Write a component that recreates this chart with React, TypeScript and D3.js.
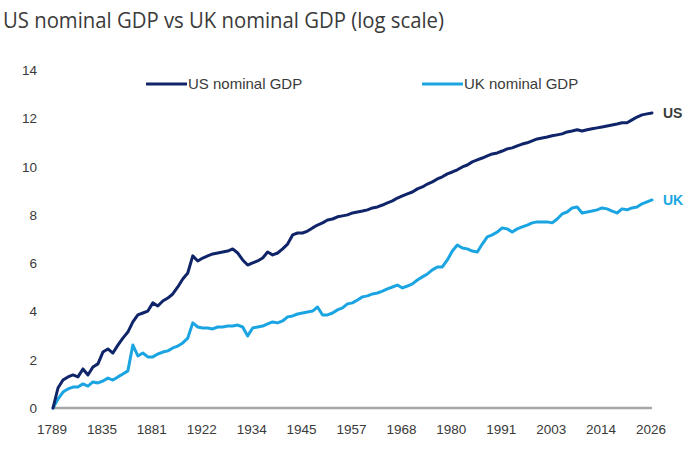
import { useEffect, useRef } from 'react';
import * as d3 from 'd3';

// Values (log scale), one point per equal step along the x axis
const usGdp = [
  0, 0.83, 1.16, 1.29, 1.37, 1.29, 1.62, 1.37, 1.7, 1.83,
  2.32, 2.45, 2.28, 2.61, 2.9, 3.15, 3.57, 3.86, 3.94, 4.02,
  4.36, 4.23, 4.44, 4.56, 4.73, 5.02, 5.35, 5.6, 6.31, 6.1,
  6.22, 6.31, 6.39, 6.43, 6.47, 6.51, 6.6, 6.43, 6.14, 5.93,
  6.02, 6.1, 6.22, 6.47, 6.35, 6.43, 6.6, 6.8, 7.18, 7.26,
  7.26, 7.34, 7.47, 7.59, 7.68, 7.8, 7.84, 7.93, 7.97, 8.01,
  8.09, 8.13, 8.17, 8.22, 8.3, 8.34, 8.42, 8.51, 8.59, 8.71,
  8.8, 8.88, 8.96, 9.09, 9.17, 9.29, 9.38, 9.5, 9.59, 9.71,
  9.79, 9.88, 10.0, 10.08, 10.21, 10.29, 10.37, 10.46, 10.54, 10.58,
  10.66, 10.75, 10.79, 10.87, 10.95, 11.0, 11.08, 11.16, 11.2, 11.24,
  11.29, 11.33, 11.37, 11.45, 11.49, 11.54, 11.49, 11.54, 11.58, 11.62,
  11.66, 11.7, 11.74, 11.78, 11.83, 11.83, 11.95, 12.07, 12.16, 12.2,
  12.24,
];

const ukGdp = [
  0, 0.37, 0.66, 0.79, 0.87, 0.87, 1.0, 0.91, 1.08, 1.04,
  1.12, 1.24, 1.16, 1.29, 1.41, 1.54, 2.61, 2.16, 2.28, 2.12,
  2.12, 2.24, 2.32, 2.37, 2.49, 2.57, 2.7, 2.9, 3.53, 3.36,
  3.32, 3.32, 3.28, 3.36, 3.36, 3.4, 3.4, 3.44, 3.36, 2.99,
  3.32, 3.36, 3.4, 3.49, 3.57, 3.53, 3.61, 3.78, 3.82, 3.9,
  3.94, 3.98, 4.02, 4.19, 3.86, 3.86, 3.94, 4.07, 4.15, 4.32,
  4.36, 4.48, 4.61, 4.65, 4.73, 4.77, 4.85, 4.94, 5.02, 5.1,
  4.98, 5.06, 5.15, 5.31, 5.44, 5.56, 5.73, 5.85, 5.85, 6.14,
  6.51, 6.76, 6.64, 6.6, 6.51, 6.47, 6.8, 7.1, 7.18, 7.3,
  7.47, 7.43, 7.3, 7.43, 7.51, 7.59, 7.68, 7.72, 7.72, 7.72,
  7.68, 7.84, 8.05, 8.13, 8.3, 8.34, 8.09, 8.13, 8.17, 8.22,
  8.3, 8.26, 8.17, 8.09, 8.26, 8.22, 8.3, 8.34, 8.47, 8.55,
  8.63,
];

const xTickLabels = [
  '1789', '1835', '1881', '1922', '1934', '1945', '1957',
  '1968', '1980', '1991', '2003', '2014', '2026',
];
const yTicks = [0, 2, 4, 6, 8, 10, 12, 14];

const US_COLOR = '#0f2469';
const UK_COLOR = '#1aa5e2';
const TEXT_COLOR = '#3a3a3a';
const FONT = '"Liberation Sans", Arial, sans-serif';

export default function App() {
  const svgRef = useRef<SVGSVGElement>(null);
  const width = 700;
  const height = 461;

  useEffect(() => {
    if (!svgRef.current) return;
    document.body.style.margin = '0';
    const svg = d3.select(svgRef.current);
    svg.selectAll('*').remove();

    const n = usGdp.length - 1;
    const step = n / (xTickLabels.length - 1);
    const x = d3.scaleLinear().domain([0, n]).range([53, 652]);
    const y = d3.scaleLinear().domain([0, 14]).range([408, 70.5]);

    // title
    svg
      .append('text')
      .attr('x', 3)
      .attr('y', 28)
      .attr('fill', TEXT_COLOR)
      .attr('textLength', 441)
      .attr('lengthAdjust', 'spacingAndGlyphs')
      .style('font-family', '"Open Sans", sans-serif')
      .style('font-size', '22px')
      .text('US nominal GDP vs UK nominal GDP (log scale)');

    // y tick labels
    svg
      .selectAll('.ytick')
      .data(yTicks)
      .enter()
      .append('text')
      .attr('x', 37)
      .attr('y', (d) => y(d))
      .attr('dy', '0.35em')
      .attr('text-anchor', 'end')
      .attr('fill', TEXT_COLOR)
      .style('font-family', FONT)
      .style('font-size', '13.5px')
      .text((d) => d);

    // x axis line
    svg
      .append('line')
      .attr('x1', x(0))
      .attr('x2', x(n))
      .attr('y1', y(0))
      .attr('y2', y(0))
      .attr('stroke', '#a6a6a6')
      .attr('stroke-width', 2.5);

    // x tick labels
    svg
      .selectAll('.xtick')
      .data(xTickLabels)
      .enter()
      .append('text')
      .attr('x', (_, i) => x(i * step) - 1)
      .attr('y', 434)
      .attr('text-anchor', 'middle')
      .attr('fill', TEXT_COLOR)
      .style('font-family', FONT)
      .style('font-size', '13.5px')
      .text((d) => d);

    const line = d3
      .line<number>()
      .x((_, i) => x(i))
      .y((d) => y(d));

    const series = [
      { data: ukGdp, color: UK_COLOR },
      { data: usGdp, color: US_COLOR },
    ];
    series.forEach((s) => {
      svg
        .append('path')
        .datum(s.data)
        .attr('fill', 'none')
        .attr('stroke', s.color)
        .attr('stroke-width', 3)
        .attr('stroke-linejoin', 'round')
        .attr('stroke-linecap', 'round')
        .attr('d', line);
    });

    // end labels
    svg
      .append('text')
      .attr('x', 663)
      .attr('y', y(usGdp[n]))
      .attr('dy', '0.35em')
      .attr('fill', TEXT_COLOR)
      .style('font-family', FONT)
      .style('font-size', '14px')
      .style('font-weight', 'bold')
      .text('US');
    svg
      .append('text')
      .attr('x', 663)
      .attr('y', y(ukGdp[n]))
      .attr('dy', '0.35em')
      .attr('fill', UK_COLOR)
      .style('font-family', FONT)
      .style('font-size', '14px')
      .style('font-weight', 'bold')
      .text('UK');

    // legend
    const legend = [
      { label: 'US nominal GDP', color: US_COLOR, x0: 146 },
      { label: 'UK nominal GDP', color: UK_COLOR, x0: 422 },
    ];
    legend.forEach((l) => {
      svg
        .append('line')
        .attr('x1', l.x0)
        .attr('x2', l.x0 + 41)
        .attr('y1', 84)
        .attr('y2', 84)
        .attr('stroke', l.color)
        .attr('stroke-width', 3);
      svg
        .append('text')
        .attr('x', l.x0 + 42)
        .attr('y', 84)
        .attr('dy', '0.35em')
        .attr('fill', TEXT_COLOR)
        .style('font-family', FONT)
        .style('font-size', '15px')
        .text(l.label);
    });
  }, []);

  return (
    <svg
      ref={svgRef}
      width={width}
      height={height}
      style={{ display: 'block', background: '#fff' }}
    />
  );
}
